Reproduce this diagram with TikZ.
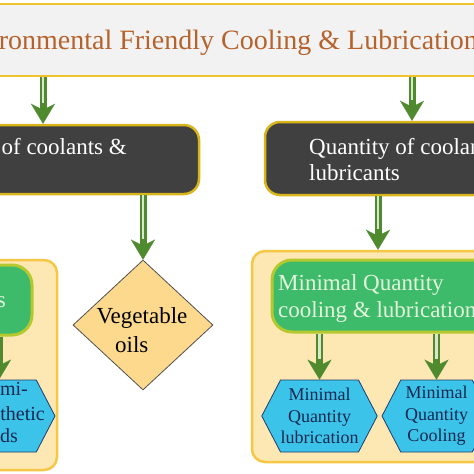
\documentclass[tikz,border=0pt]{standalone}
\usepackage{fontspec}
\setmainfont{Liberation Serif}
\usetikzlibrary{arrows.meta,shapes.geometric,shapes.symbols}
\definecolor{agreen}{HTML}{4F8A2F}
\definecolor{shaftin}{HTML}{D9E8CC}
\definecolor{banborder}{HTML}{F2C12E}
\definecolor{banfill}{HTML}{F2F2F2}
\definecolor{bantxt}{HTML}{B5622C}
\definecolor{darkfill}{HTML}{404040}
\definecolor{darkborder}{HTML}{D9B51C}
\definecolor{contfill}{HTML}{FDE7B3}
\definecolor{contborder}{HTML}{F6C744}
\definecolor{greenfill}{HTML}{3DBB6B}
\definecolor{greenborder}{HTML}{B5C92E}
\definecolor{greentxt}{HTML}{E4F6DC}
\definecolor{diafill}{HTML}{FCD98D}
\definecolor{diaborder}{HTML}{505050}
\definecolor{hexfill}{HTML}{3CC3EA}
\definecolor{hexborder}{HTML}{1F3B6E}
\definecolor{hextxt}{HTML}{142850}
\begin{document}
\begin{tikzpicture}[x=1pt,y=-1pt,
  bannerbox/.style={draw=banborder, fill=banfill, line width=2.5pt, inner sep=0pt},
  bantext/.style={text=bantxt, inner sep=0pt, font=\fontsize{28}{32}\selectfont},
  darkbox/.style={draw=darkborder, fill=darkfill, line width=2.5pt, rounded corners=15pt, inner sep=0pt},
  darktext/.style={text=white, inner sep=0pt, font=\fontsize{23}{27}\selectfont},
  contbox/.style={draw=contborder, fill=contfill, line width=2.5pt, rounded corners=13pt, inner sep=0pt},
  greenbox/.style={draw=greenborder, fill=greenfill, line width=3pt, rounded corners=20pt, inner sep=0pt},
  greentext/.style={text=greentxt, inner sep=0pt, font=\fontsize{23}{27}\selectfont},
  diamondbox/.style={shape=diamond, draw=diaborder, fill=diafill, line width=0.8pt, inner sep=0pt, minimum width=140pt, minimum height=130pt},
  plaintext/.style={text=black, inner sep=0pt, font=\fontsize{23}{27}\selectfont},
  hexbox/.style={shape=signal, signal to=west and east, signal pointer angle=125, draw=hexborder, fill=hexfill, line width=0.8pt, inner sep=0pt, minimum width=109pt, minimum height=72pt, align=center, text=hextxt, font=\fontsize{18}{21.5}\selectfont},
  hextext/.style={text=hextxt, inner sep=0pt, font=\fontsize{20}{24}\selectfont},
  arr/.style={draw=agreen, line width=7pt, -{Stealth[length=20pt,width=24pt,inset=6pt,line width=0.1pt]},
    postaction={draw=shaftin, line width=2.2pt, shorten >=21pt, -}}
]
\useasboundingbox (0,0) rectangle (474,474);
\fill[white] (0,0) rectangle (474,474);
\clip (0,0) rectangle (474,474);

% banner
\node[bannerbox, minimum width=520pt, minimum height=72pt] (ban) at (237,40) {};
\node[bantext, anchor=base east] (bant) at (478,49) {Environmental Friendly Cooling \& Lubrication};

% dark boxes
\node[darkbox, minimum width=260pt, minimum height=69pt] (dkL) at (69,159.5) {};
\node[darktext, anchor=base east] (dkLt) at (127,154) {of coolants \&};
\node[darkbox, minimum width=240pt, minimum height=73pt] (dkR) at (385,158.5) {};
\node[darktext, anchor=base west] (dkRt1) at (309,154) {Quantity of coolants \&};
\node[darktext, anchor=base west] (dkRt2) at (309,180) {lubricants};

% containers
\node[contbox, minimum width=100pt, minimum height=210pt] (contL) at (7,365) {};
\node[contbox, minimum width=260pt, minimum height=211pt] (contR) at (382,356.5) {};

% green boxes
\node[greenbox, minimum width=240pt, minimum height=72pt] (gR) at (392,296) {};
\node[greentext, anchor=base west] (gRt1) at (278,290) {Minimal Quantity};
\node[greentext, anchor=base west] (gRt2) at (278,317) {cooling \& lubrication};
\node[greenbox, minimum width=100pt, minimum height=70pt] (gL) at (-18,300) {};
\node[greentext, anchor=base east] (gLt) at (6,307) {s};

% diamond
\node[diamondbox] (dia) at (143,325) {};
\node[plaintext, anchor=base] (diat1) at (142,323) {Vegetable};
\node[plaintext, anchor=base west] (diat2) at (115,352) {oils};

% hexagons
\node[hexbox, minimum width=112pt] (hL) at (-1,416) {};
\node[hextext, anchor=base east] (hLt1) at (28,395) {Semi-};
\node[hextext, anchor=base east] (hLt2) at (45,420) {synthetic};
\node[hextext, anchor=base east] (hLt3) at (18,442) {fluids};
\node[hexbox] (hR1) at (319.5,416) {Minimal\\Quantity\\lubrication};
\node[hexbox] (hR2) at (436.5,416) {Minimal\\Quantity\\Cooling};

% connectors
\coordinate (xa) at (43,0);
\coordinate (xb) at (412,0);
\coordinate (xd) at (378,0);
\coordinate (xg) at (-1,0);
\draw[arr] (ban.south -| xa) -- (dkL.north -| xa);
\draw[arr] (ban.south -| xb) -- (dkR.north -| xb);
\draw[arr] (dkL.south -| dia.north) -- (dia.north);
\draw[arr] (dkR.south -| xd) -- (contR.north -| xd);
\draw[arr] (gR.south -| hR1.north) -- (hR1.north);
\draw[arr] (gR.south -| hR2.north) -- (hR2.north);
\draw[arr] (gL.south -| xg) -- (hL.north -| xg);
\end{tikzpicture}
\end{document}
